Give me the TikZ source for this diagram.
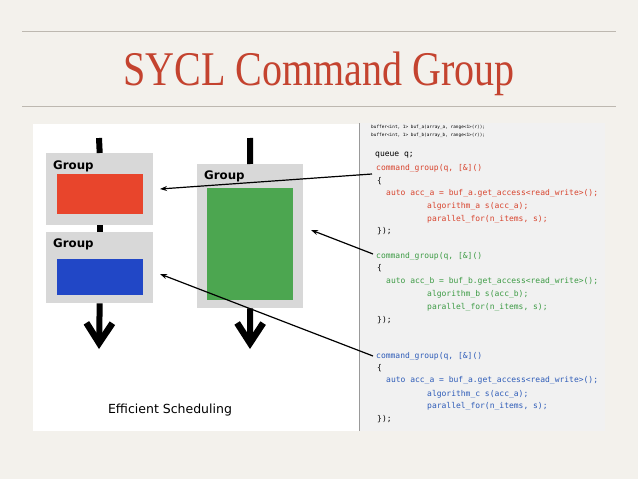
\documentclass[tikz,border=0pt]{standalone}
\usepackage{fontspec}
\setmainfont{Liberation Serif}
\newfontfamily\codefont{DejaVu Sans Mono}
\newfontfamily\labfont{DejaVu Sans}
\usetikzlibrary{arrows.meta}
\definecolor{bgc}{HTML}{F3F1EC}
\definecolor{rulec}{HTML}{BDB8B0}
\definecolor{titlec}{HTML}{C4432F}
\definecolor{boxgray}{HTML}{D8D8D8}
\definecolor{redc}{HTML}{E8452C}
\definecolor{bluec}{HTML}{2147C6}
\definecolor{greenc}{HTML}{4CA650}
\definecolor{codebg}{HTML}{F1F1F1}
\definecolor{cred}{HTML}{D8442E}
\definecolor{cgreen}{HTML}{3D9B45}
\definecolor{cblue}{HTML}{2E5CB8}
\tikzset{
  groupbox/.style={fill=boxgray, draw=none, anchor=north west, inner sep=0pt},
  fillbox/.style={draw=none, anchor=north west, inner sep=0pt},
  grouplabel/.style={anchor=base west, inner sep=0pt, font=\labfont\bfseries\fontsize{11.8}{12}\selectfont},
  flow/.style={line width=6pt, black},
  flowarrow/.style={line width=6pt, black, -{Straight Barb[length=20pt,width=26pt,line width=6.5pt]}},
  pointer/.style={line width=1.2pt, black, -{Stealth[length=7pt,width=5pt]}},
  code/.style={anchor=base west, inner sep=0pt, font=\codefont\fontsize{8}{9}\selectfont},
  tinycode/.style={anchor=base west, inner sep=0pt, font=\codefont\fontsize{4.4}{5}\selectfont},
}
\begin{document}
\begin{tikzpicture}[x=1pt,y=-1pt]
\useasboundingbox (0,0) rectangle (638,479);
\fill[bgc] (0,0) rectangle (638,479);
% rules and title
\draw[rulec, line width=0.8pt] (22,31) -- (616,31);
\draw[rulec, line width=0.8pt] (22,106) -- (616,106);
\node[anchor=base, inner sep=0pt, text=titlec, font=\fontsize{44}{44}\selectfont] (title) at (319,85) {\scalebox{0.91}[1.1]{SYCL Command Group}};
% panels
\fill[white] (33,124) rectangle (359,431);
\fill[codebg] (359,123) rectangle (605,431);
\draw[gray!80, line width=0.8pt] (359,123) -- (359,431);
% boxes
\node[groupbox, minimum width=107pt, minimum height=72pt] (g1) at (46,153) {};
\node[groupbox, minimum width=107pt, minimum height=71pt] (g2) at (46,232) {};
\node[groupbox, minimum width=106pt, minimum height=144pt] (g3) at (197,164) {};
\node[fillbox, fill=redc, minimum width=86pt, minimum height=40pt] (r1) at (57,174) {};
\node[fillbox, fill=bluec, minimum width=86pt, minimum height=36pt] (b1) at (57,259) {};
\node[fillbox, fill=greenc, minimum width=86pt, minimum height=112pt] (gr1) at (207,188) {};
\node[grouplabel] (l1) at (53,169) {Group};
\node[grouplabel] (l2) at (53,247) {Group};
\node[grouplabel] (l3) at (204,179) {Group};
% flow lines
\coordinate (t1) at (99,138);
\coordinate (t2) at (250,138);
\coordinate (e1) at (99,349);
\coordinate (e2) at (250,349);
\draw[flow] (t1) -- (g1.north);
\draw[flow] (g1.south) -- (g2.north);
\draw[flowarrow] (g2.south) -- (e1);
\draw[flow] (t2) -- (g3.north);
\draw[flowarrow] (g3.south) -- (e2);
\node[anchor=base, inner sep=0pt, font=\labfont\fontsize{12.5}{13}\selectfont] (sched) at (170,413) {Efficient Scheduling};
% code
\node[tinycode] (bufa) at (371,128.5) {buffer<int, 1> buf\_a(array\_a, range<1>(r));};
\node[tinycode] (bufb) at (371,136.5) {buffer<int, 1> buf\_b(array\_b, range<1>(r));};
\node[code] (q) at (375,156) {queue q;};
\node[code, text=cred] (cg1) at (376,170) {command\_group(q, [\&]()};
\node[code] (o1) at (377,183) {\{};
\node[code, text=cred] (a1) at (386,195) {auto acc\_a = buf\_a.get\_access<read\_write>();};
\node[code, text=cred] (al1) at (427,208) {algorithm\_a s(acc\_a);};
\node[code, text=cred] (p1) at (427,221) {parallel\_for(n\_items, s);};
\node[code] (c1) at (377,233) {\});};
\node[code, text=cgreen] (cg2) at (376,258) {command\_group(q, [\&]()};
\node[code] (o2) at (377,270) {\{};
\node[code, text=cgreen] (a2) at (386,283) {auto acc\_b = buf\_b.get\_access<read\_write>();};
\node[code, text=cgreen] (al2) at (427,296) {algorithm\_b s(acc\_b);};
\node[code, text=cgreen] (p2) at (427,309) {parallel\_for(n\_items, s);};
\node[code] (c2) at (377,322) {\});};
\node[code, text=cblue] (cg3) at (376,358) {command\_group(q, [\&]()};
\node[code] (o3) at (377,370) {\{};
\node[code, text=cblue] (a3) at (386,382) {auto acc\_a = buf\_a.get\_access<read\_write>();};
\node[code, text=cblue] (al3) at (427,396) {algorithm\_c s(acc\_a);};
\node[code, text=cblue] (p3) at (427,408) {parallel\_for(n\_items, s);};
\node[code] (c3) at (377,421) {\});};
% pointers
\coordinate (s1) at (372,174);
\coordinate (s2) at (373,254);
\coordinate (s3) at (373,356);
\coordinate (d1) at (160,189);
\coordinate (d2) at (311,230);
\coordinate (d3) at (160,274);
\draw[pointer] (s1) -- (d1);
\draw[pointer] (s2) -- (d2);
\draw[pointer] (s3) -- (d3);
\end{tikzpicture}
\end{document}
